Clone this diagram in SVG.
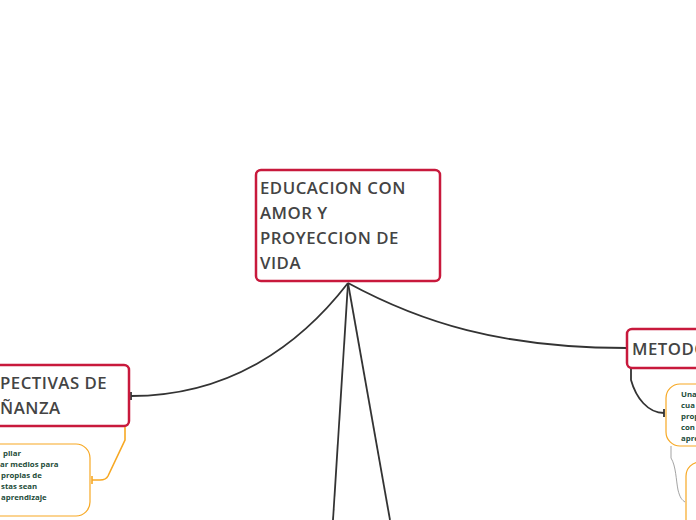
<svg xmlns="http://www.w3.org/2000/svg" width="696" height="520" viewBox="0 0 696 520">
<style>
.main{fill:#fff;stroke:#c8193c;stroke-width:2.5}
.note{fill:#fff;stroke:#f7a823;stroke-width:1.2}
.h{font-family:"Open Sans","Liberation Sans",sans-serif;font-weight:600;font-size:16.8px;fill:#444;letter-spacing:0.5px}
.t{font-family:"Open Sans","Liberation Sans",sans-serif;font-weight:700;font-size:7.8px;fill:#1e4d3a}
.c{fill:none;stroke:#333;stroke-width:1.8}
.co{fill:none;stroke:#f7a823;stroke-width:1.6}
.cg{fill:none;stroke:#999;stroke-width:0.9}
</style>
<rect width="696" height="520" fill="#fff"/>
<g id="connectors">
<path class="c" d="M348,283 C300,345 230,396 131,396"/>
<path class="c" d="M131,392 V400"/>
<path class="c" d="M348,283 C420,322 500,348 627,348"/>
<path class="c" d="M627,344 V352"/>
<path class="c" d="M348,283 L333,520"/>
<path class="c" d="M348,283 L390,520"/>
<path class="c" d="M631,368 V380 C636,398 648,413 664,413"/>
<path class="c" d="M664,409 V417"/>
<path class="co" d="M125,427 V440 L108,476 Q106,480 100,480 H92"/>
<path class="co" d="M92,476 V484"/>
<path class="cg" d="M671,446 V458 C676,466 676,480 678,490 C680,498 682,500 685,502"/>
</g>
<g id="node-center">
<rect class="main" x="256" y="170" width="184" height="111" rx="5"/>
<text class="h" x="260" y="194">EDUCACION CON</text>
<text class="h" x="260" y="219">AMOR Y</text>
<text class="h" x="260" y="244">PROYECCION DE</text>
<text class="h" x="260" y="269">VIDA</text>
</g>
<g id="node-left">
<rect class="main" x="-20" y="365" width="149" height="61" rx="5"/>
<text class="h" x="0" y="389">PECTIVAS DE</text>
<text class="h" x="0" y="414">ÑANZA</text>
</g>
<g id="note-left">
<rect class="note" x="-30" y="444" width="120" height="72" rx="14"/>
<text class="t" x="3" y="456">pilar</text>
<text class="t" x="0" y="467">ar medios para</text>
<text class="t" x="1" y="478">propias de</text>
<text class="t" x="1" y="489">stas sean</text>
<text class="t" x="1" y="500">aprendizaje</text>
</g>
<g id="node-right">
<rect class="main" x="627" y="329" width="100" height="39" rx="5"/>
<text class="h" x="632" y="355">METODO</text>
</g>
<g id="note-right">
<rect class="note" x="666" y="384" width="60" height="62" rx="14"/>
<text class="t" x="681" y="397">Una a</text>
<text class="t" x="681" y="408">cua</text>
<text class="t" x="681" y="419">prop</text>
<text class="t" x="681" y="430">con</text>
<text class="t" x="681" y="441">apre</text>
</g>
<g id="note-right-2">
<rect class="note" x="686" y="462" width="40" height="80" rx="14"/>
</g>
</svg>
